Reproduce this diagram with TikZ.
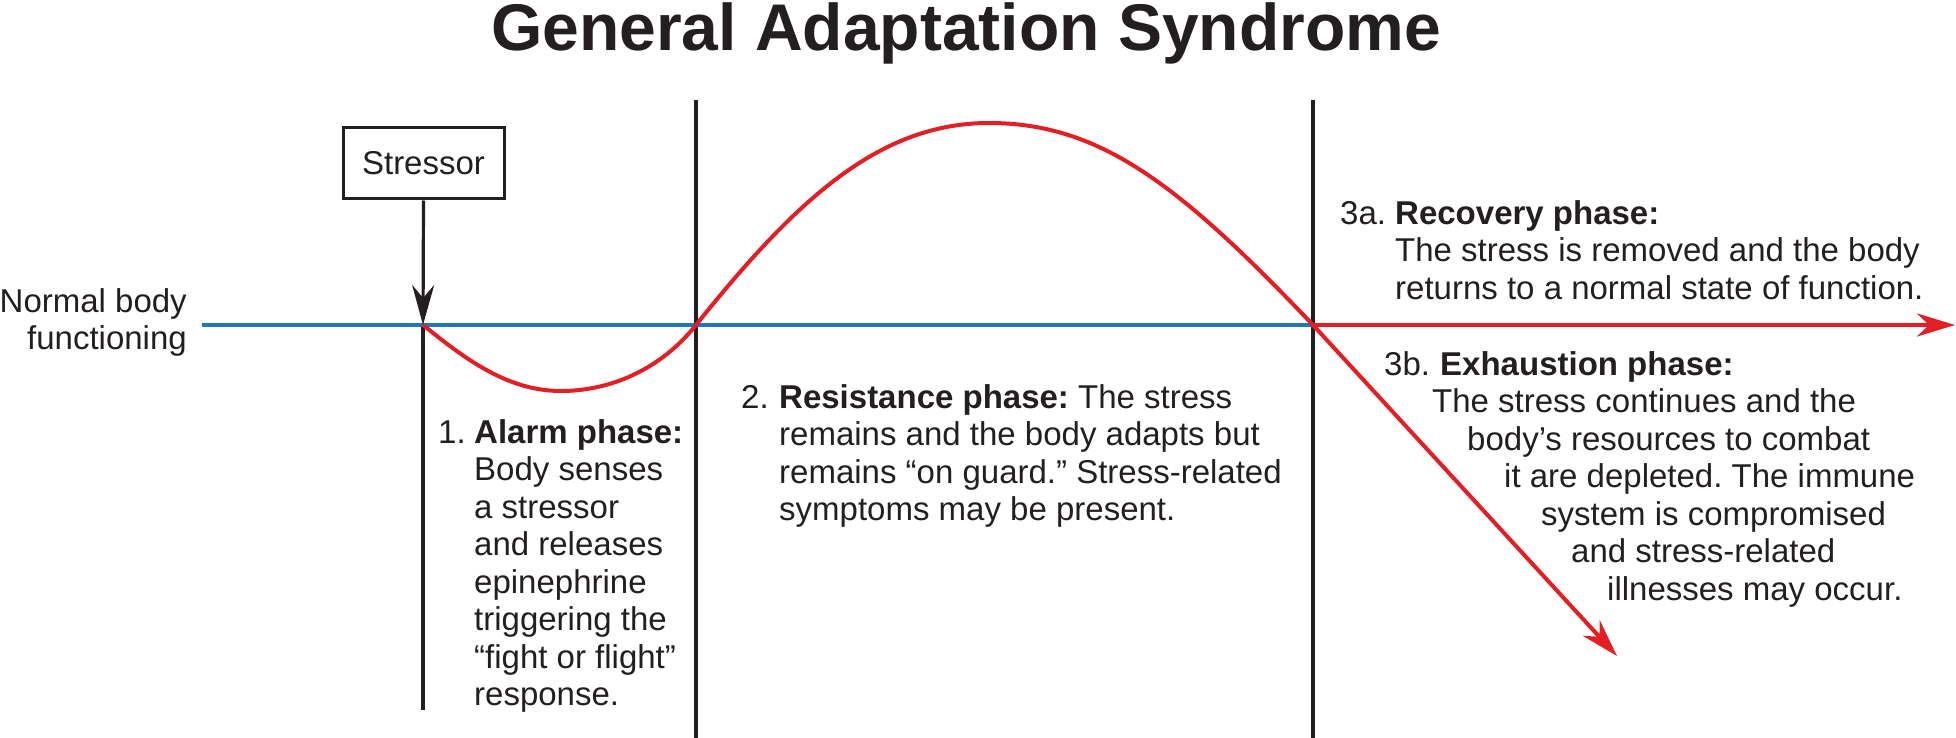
\documentclass[tikz,border=0pt]{standalone}
\usepackage{fontspec}
\setmainfont{Liberation Sans}
\usetikzlibrary{arrows.meta}
\definecolor{ink}{HTML}{231F20}
\definecolor{gasred}{HTML}{E31E24}
\definecolor{gasblue}{HTML}{1F78BE}
\newcommand{\txtline}[2]{\hbox{\kern#1pt\relax#2}}
\newcommand{\numlbl}[2]{\hbox to #1pt{#2\hss}}
\frenchspacing
\begin{document}
\begin{tikzpicture}[x=1pt,y=-1pt,
  body/.style={inner sep=0pt, text=ink, font=\fontsize{33}{37.5}\selectfont},
  txtblock/.style={body, anchor=base west},
  titlefont/.style={inner sep=0pt, text=ink, font=\fontsize{66}{70}\selectfont\bfseries, anchor=base},
  boxnode/.style={body, draw=ink, line width=3pt, minimum width=161pt, minimum height=71pt},
  vline/.style={draw=ink, line width=3.2pt},
  blueline/.style={draw=gasblue, line width=4.5pt},
  redline/.style={draw=gasred, line width=4pt},
  redarrow/.style={redline, -{Stealth[length=38pt,width=23pt,inset=12pt]}},
  blackarrow/.style={vline, -{Stealth[length=40pt,width=22pt,inset=13pt]}}
]
\useasboundingbox (0,0) rectangle (1956,738);

% title
\node[titlefont] (title) at (966,51) {General Adaptation Syndrome};

% key coordinates
\coordinate (a0) at (423,325);
\coordinate (a1) at (696,325);
\coordinate (a2) at (1313,325);
\coordinate (blueStart) at (202,325);
\coordinate (dipmin) at (561,391);
\coordinate (peak) at (989,123);
\coordinate (tipA) at (1955,325);
\coordinate (tipB) at (1617,656);
\coordinate (v0bot) at (423,710);
\coordinate (v1top) at (696,100);
\coordinate (v1bot) at (696,738);
\coordinate (v2top) at (1313,100);
\coordinate (v2bot) at (1313,738);

% vertical dividers
\draw[vline] (v1top) -- (v1bot);
\draw[vline] (v2top) -- (v2bot);

% stressor
\node[boxnode] (stressor) at (423.5,163.5) {Stressor};
\draw[vline] (a0) -- (v0bot);

% normal line
\draw[blueline] (blueStart) -- (a2);

\draw[blackarrow] (stressor.south) -- (a0);

% red curve
\draw[redline] (a0) .. controls (463,357) and (506,391) .. (dipmin)
  .. controls (611,391) and (661,369) .. (a1)
  .. controls (796,200) and (879,123) .. (peak)
  .. controls (1099,123) and (1178,183) .. (a2);
\draw[redarrow] (a2) -- (tipA);
\draw[redarrow] (a2) -- (tipB);

% labels
\node[body, anchor=base east] (normal) at (187,312)
  {\vtop{\baselineskip=37pt\hbox to 187pt{\hss Normal body}\hbox to 187pt{\hss functioning}}};

\node[txtblock] (alarm) at (438,443) {\vtop{\baselineskip=37.5pt
  \hbox{\numlbl{36}{1.}\textbf{Alarm phase:}}
  \txtline{36}{Body senses}
  \txtline{36}{a stressor}
  \txtline{36}{and releases}
  \txtline{36}{epinephrine}
  \txtline{36}{triggering the}
  \txtline{36}{“fight or flight”}
  \txtline{36}{response.}}};

\node[txtblock] (resist) at (741,408) {\vtop{\baselineskip=37.5pt
  \hbox{\numlbl{38}{2.}\textbf{Resistance phase:} The stress}
  \txtline{38}{remains and the body adapts but}
  \txtline{38}{remains “on guard.” Stress-related}
  \txtline{38}{symptoms may be present.}}};

\node[txtblock] (recov) at (1340,224) {\vtop{\baselineskip=37.5pt
  \hbox{\numlbl{55}{3a.}\textbf{Recovery phase:}}
  \txtline{55}{The stress is removed and the body}
  \txtline{55}{returns to a normal state of function.}}};

\node[txtblock] (exhaust) at (1384,375) {\vtop{\baselineskip=37.5pt
  \hbox{\numlbl{56}{3b.}\textbf{Exhaustion phase:}}
  \txtline{48}{The stress continues and the}
  \txtline{83}{body’s resources to combat}
  \txtline{120}{it are depleted. The immune}
  \txtline{157}{system is compromised}
  \txtline{187}{and stress-related}
  \txtline{223}{illnesses may occur.}}};
\end{tikzpicture}
\end{document}
